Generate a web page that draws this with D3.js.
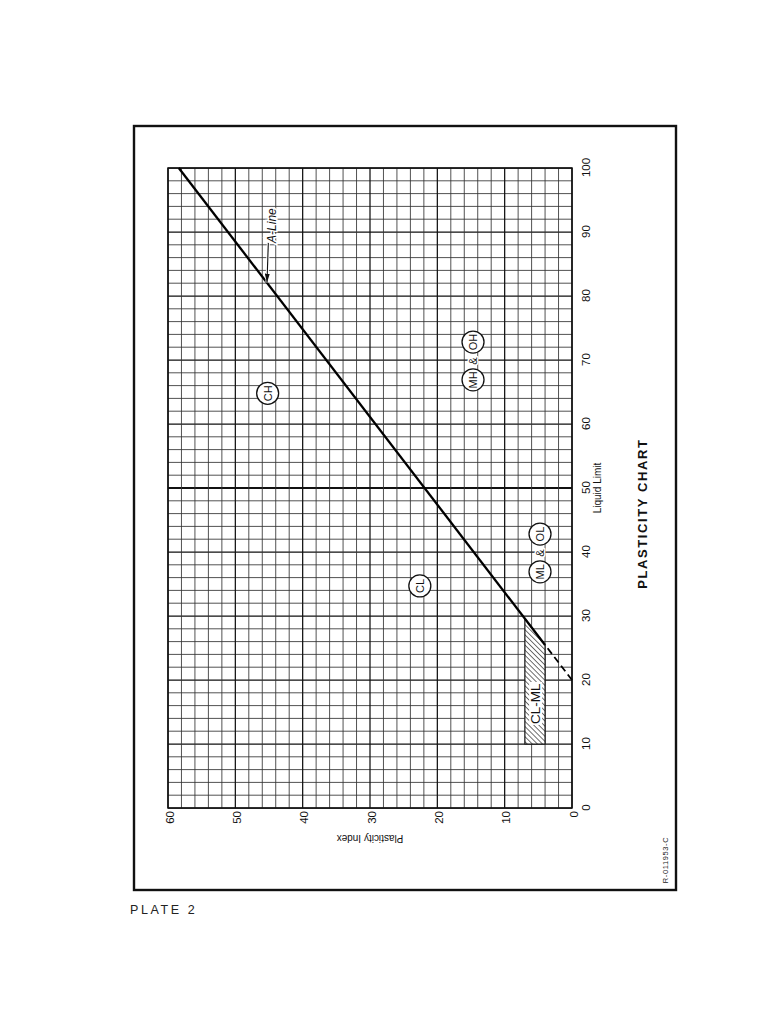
<!DOCTYPE html>
<meta charset="utf-8">
<script src="https://d3js.org/d3.v7.min.js"></script>
<style>
  body { margin: 0; background: #fff; }
  svg { display: block; font-family: "Liberation Sans", Arial, sans-serif; }
</style>
<div id="chart"></div>
<script>

// axes (liquid limit runs along the original x, plasticity index along y)
var llTicks = [0, 10, 20, 30, 40, 50, 60, 70, 80, 90, 100];
var piTicks = [0, 10, 20, 30, 40, 50, 60];
var gridStep = 2;

// A-line: PI = 0.73 (LL - 20)
var aLineSolid = [[25.48, 4], [100, 58.4]];
var aLineDashed = [[20, 0], [25.48, 4]];

// CL-ML hatched zone
var clmlZone = [[10, 4], [10, 7], [29.59, 7], [25.48, 4]];

// circled group symbols [LL, PI]
var circledNames = ["CH", "CL", "MH", "OH", "ML", "OL"];
var circledLL = [64.8, 34.7, 66.9, 72.8, 36.9, 42.8];
var circledPI = [45.2, 22.6, 14.7, 14.7, 4.75, 4.75];
var ampLL = [69.85, 39.85];
var ampPI = [14.7, 4.75];

var W = 640, H = 404;

var svg = d3.select("#chart")
  .append("svg")
    .attr("width", 768)
    .attr("height", 1024);

// page frame
svg.append("rect")
  .attr("x", 134).attr("y", 126)
  .attr("width", 542).attr("height", 764)
  .attr("fill", "none")
  .attr("stroke", "#111")
  .attr("stroke-width", 2.4);

svg.append("text")
  .attr("x", 130).attr("y", 914)
  .style("font-size", "12.5px")
  .style("letter-spacing", "2.6px")
  .attr("fill", "#222")
  .text("PLATE 2");

// the whole plate is printed turned on its side
var g = svg.append("g")
  .attr("transform", "translate(168,808) rotate(-90)");

var x = d3.scaleLinear().domain([0, 100]).range([0, W]);
var y = d3.scaleLinear().domain([0, 60]).range([H, 0]);

var defs = svg.append("defs");
var pat = defs.append("pattern")
  .attr("id", "hatch")
  .attr("patternUnits", "userSpaceOnUse")
  .attr("width", 3.6).attr("height", 3.6)
  .attr("patternTransform", "rotate(45)");
pat.append("line")
  .attr("x1", 0).attr("y1", 0).attr("x2", 0).attr("y2", 3.6)
  .attr("stroke", "#111").attr("stroke-width", 1.2);

defs.append("marker")
  .attr("id", "arrow")
  .attr("viewBox", "0 0 10 10")
  .attr("refX", 10).attr("refY", 5)
  .attr("markerWidth", 9).attr("markerHeight", 5)
  .attr("markerUnits", "userSpaceOnUse")
  .attr("preserveAspectRatio", "none")
  .attr("orient", "auto")
  .append("path")
    .attr("d", "M0,0 L10,5 L0,10 Z")
    .attr("fill", "#111");

// grid
var llGrid = d3.range(0, 100 + gridStep, gridStep);
var piGrid = d3.range(0, 60 + gridStep, gridStep);

function gridWidth(v) {
  if (v === 50) return 2.1;
  return v % 10 === 0 ? 1.25 : 0.85;
}

g.selectAll(".vgrid")
  .data(llGrid)
  .enter()
  .append("line")
    .attr("x1", function(d){ return x(d) })
    .attr("x2", function(d){ return x(d) })
    .attr("y1", 0).attr("y2", H)
    .attr("stroke", function(d){ return d % 10 === 0 ? "#111" : "#333" })
    .attr("stroke-width", function(d){ return gridWidth(d) });

g.selectAll(".hgrid")
  .data(piGrid)
  .enter()
  .append("line")
    .attr("x1", 0).attr("x2", W)
    .attr("y1", function(d){ return y(d) })
    .attr("y2", function(d){ return y(d) })
    .attr("stroke", function(d){ return d % 10 === 0 ? "#111" : "#333" })
    .attr("stroke-width", function(d){ return d % 10 === 0 ? 1.25 : 0.85 });

g.append("rect")
  .attr("width", W).attr("height", H)
  .attr("fill", "none")
  .attr("stroke", "#111")
  .attr("stroke-width", 1.5);

// CL-ML zone
var zoneLine = d3.line()
  .x(function(d){ return x(d[0]) })
  .y(function(d){ return y(d[1]) });

g.append("path")
  .attr("d", zoneLine(clmlZone) + "Z")
  .attr("fill", "#fff");
g.append("path")
  .attr("d", zoneLine(clmlZone) + "Z")
  .attr("fill", "url(#hatch)")
  .attr("stroke", "#111")
  .attr("stroke-width", 1.2);

var zoneText = g.append("text")
  .attr("x", x(16.3))
  .attr("y", y(5.4))
  .attr("text-anchor", "middle")
  .attr("dominant-baseline", "central")
  .style("font-size", "13.5px")
  .attr("fill", "#111")
  .text("CL-ML");
var bb = zoneText.node().getBBox();
g.insert("rect", function(){ return zoneText.node() })
  .attr("x", bb.x - 1).attr("y", bb.y + 1)
  .attr("width", bb.width + 2).attr("height", bb.height - 2)
  .attr("fill", "#fff");

// A-line
g.append("path")
  .attr("d", zoneLine(aLineSolid))
  .attr("stroke", "#000")
  .attr("stroke-width", 2.3)
  .attr("fill", "none");
g.append("path")
  .attr("d", zoneLine(aLineDashed))
  .attr("stroke", "#000")
  .attr("stroke-width", 1.8)
  .attr("stroke-dasharray", "7,4")
  .attr("fill", "none");

// A-line callout
g.append("line")
  .attr("x1", x(88.3)).attr("y1", y(45.1))
  .attr("x2", x(82.1)).attr("y2", y(45.3))
  .attr("stroke", "#fff")
  .attr("stroke-width", 3);
g.append("line")
  .attr("x1", x(88.3)).attr("y1", y(45.1))
  .attr("x2", x(82.1)).attr("y2", y(45.3))
  .attr("stroke", "#111")
  .attr("stroke-width", 1.1)
  .attr("marker-end", "url(#arrow)");
g.append("text")
  .attr("x", x(88.3))
  .attr("y", y(44.6))
  .attr("dominant-baseline", "central")
  .attr("stroke", "#fff")
  .attr("stroke-width", 3)
  .attr("paint-order", "stroke")
  .style("font-size", "12px")
  .style("font-style", "italic")
  .attr("fill", "#111")
  .text("A-Line");

// circled symbols
var sym = g.selectAll(".sym")
  .data(circledNames)
  .enter()
  .append("g")
    .attr("transform", function(d, i){ return "translate(" + x(circledLL[i]) + "," + y(circledPI[i]) + ")" });
sym.append("circle")
  .attr("r", 11)
  .attr("fill", "#fff")
  .attr("stroke", "#111")
  .attr("stroke-width", 1.3);
sym.append("text")
  .attr("text-anchor", "middle")
  .attr("dominant-baseline", "central")
  .style("font-size", "11px")
  .attr("fill", "#111")
  .text(function(d){ return d });

g.selectAll(".amp")
  .data(ampLL)
  .enter()
  .append("text")
    .attr("x", function(d){ return x(d) })
    .attr("y", function(d, i){ return y(ampPI[i]) })
    .attr("text-anchor", "middle")
    .attr("dominant-baseline", "central")
    .attr("stroke", "#fff")
    .attr("stroke-width", 3)
    .attr("paint-order", "stroke")
    .style("font-size", "11px")
    .attr("fill", "#111")
    .text("&");

// axes
var xAxis = g.append("g")
  .attr("transform", "translate(0," + H + ")")
  .call(d3.axisBottom(x).tickValues(llTicks).tickSize(0).tickPadding(10));
var yAxis = g.append("g")
  .call(d3.axisLeft(y).tickValues(piTicks).tickSize(0).tickPadding(3));
[xAxis, yAxis].forEach(function(a){
  a.select(".domain").remove();
  a.selectAll("text")
    .style("font-size", "11.5px")
    .style("font-family", "'Liberation Sans', Arial, sans-serif")
    .attr("fill", "#111");
});
yAxis.selectAll("text").attr("dy", "0.45em");

g.append("text")
  .attr("x", x(50))
  .attr("y", H + 29)
  .attr("text-anchor", "middle")
  .style("font-size", "10px")
  .attr("fill", "#111")
  .text("Liquid Limit");

g.append("text")
  .attr("transform", "translate(-27," + y(30) + ") rotate(-90)")
  .attr("text-anchor", "middle")
  .style("font-size", "10px")
  .attr("fill", "#111")
  .text("Plasticity Index");

g.append("text")
  .attr("x", x(46))
  .attr("y", H + 75)
  .attr("text-anchor", "middle")
  .style("font-size", "13px")
  .style("font-weight", "bold")
  .style("letter-spacing", "1.6px")
  .attr("fill", "#111")
  .text("PLASTICITY CHART");

g.append("text")
  .attr("x", -52)
  .attr("y", H + 96)
  .attr("text-anchor", "middle")
  .style("font-size", "7.5px")
  .style("letter-spacing", "0.6px")
  .attr("fill", "#222")
  .text("R-011953-C");

</script>
